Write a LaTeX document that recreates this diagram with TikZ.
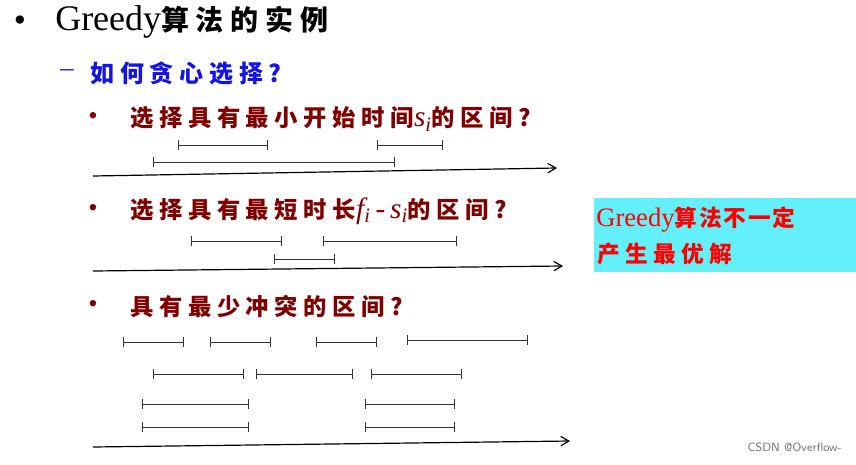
\documentclass[tikz,border=0pt]{standalone}
\usepackage{fontspec}
\setmainfont{Liberation Serif}
\newfontfamily\cjk[LetterSpace=24]{Noto Sans CJK SC}
\newfontfamily\cjkt[LetterSpace=8]{Noto Sans CJK SC}
\usetikzlibrary{arrows.meta}
\definecolor{dred}{RGB}{128,0,0}
\definecolor{myblue}{RGB}{20,20,230}
\definecolor{boxc}{RGB}{100,240,250}
\begin{document}
\begin{tikzpicture}[x=0.75pt,y=-0.75pt,
  iv/.style={{Bar[width=8pt]}-{Bar[width=8pt]},line width=0.7pt,draw=black!80},
  ax/.style={-{Straight Barb[length=6pt,width=7pt]},line width=0.9pt},
  q/.style={anchor=west,inner sep=0,text=dred,font=\cjk\bfseries\fontsize{17.5}{17}\selectfont},
  bul/.style={anchor=center,inner sep=0,text=dred,font=\fontsize{20}{20}\selectfont}]
\useasboundingbox (0,0) rectangle (856,464);
\node[anchor=center,inner sep=0,font=\fontsize{26}{26}\selectfont] (b0) at (20,24) {•};
\node[anchor=west,inner sep=0,font=\fontsize{27}{27}\selectfont] (t0) at (55,22) {Greedy{\cjk\bfseries\fontsize{21}{21}\selectfont 算法的实例}};
\node[anchor=center,inner sep=0,text=myblue,font=\fontsize{20}{20}\selectfont] (d1) at (67,73) {–};
\node[anchor=west,inner sep=0,text=myblue,font=\cjk\bfseries\fontsize{18}{18}\selectfont] (t1) at (90,73) {如何贪心选择?};
\node[bul] (b1) at (93,118) {•};
\node[q] (q1) at (130,119) {选择具有最小开始时间{\rmfamily\itshape\mdseries\fontsize{22}{22}\selectfont s\textsubscript{i}}的区间?};
\node[bul] (b2) at (93,210) {•};
\node[q] (q2) at (130,211) {选择具有最短时长{\rmfamily\itshape\mdseries\fontsize{22}{22}\selectfont f\textsubscript{i}\,{\upshape -}\,s\textsubscript{i}}的区间?};
\node[bul] (b3) at (93,306) {•};
\node[q] (q3) at (130,307) {具有最少冲突的区间?};
% section 1
\draw[iv] (178,145) -- (268,145);
\draw[iv] (377,145) -- (443,145);
\draw[iv] (153,162) -- (395,162);
\draw[ax] (93,176) -- (557,168);
% section 2
\draw[iv] (191,241) -- (282,241);
\draw[iv] (323,241) -- (457,241);
\draw[iv] (274,259) -- (335,259);
\draw[ax] (93,271) -- (563,266);
% section 3
\draw[iv] (123,342) -- (184,342);
\draw[iv] (210,342) -- (271,342);
\draw[iv] (316,342) -- (377,342);
\draw[iv] (407,340) -- (528,340);
\draw[iv] (153,374) -- (244,374);
\draw[iv] (256,374) -- (353,374);
\draw[iv] (371,374) -- (462,374);
\draw[iv] (142,404) -- (249,404);
\draw[iv] (365,404) -- (455,404);
\draw[iv] (142,427) -- (249,427);
\draw[iv] (365,427) -- (455,427);
\draw[ax] (93,447) -- (570,441);
% box
\fill[boxc] (594,198) rectangle (856,272);
\node[anchor=west,inner sep=0,text=red,font=\fontsize{20}{20}\selectfont] (r1) at (596,220) {Greedy{\cjkt\bfseries\fontsize{17}{17}\selectfont 算法不一定}};
\node[anchor=west,inner sep=0,text=red,font=\cjk\bfseries\fontsize{17}{17}\selectfont] (r2) at (597,254) {产生最优解};
\node[anchor=east,inner sep=0,text=black!55,font=\sffamily\fontsize{9}{9}\selectfont] (wm) at (842,447) {CSDN @Overflow-};
\end{tikzpicture}
\end{document}
